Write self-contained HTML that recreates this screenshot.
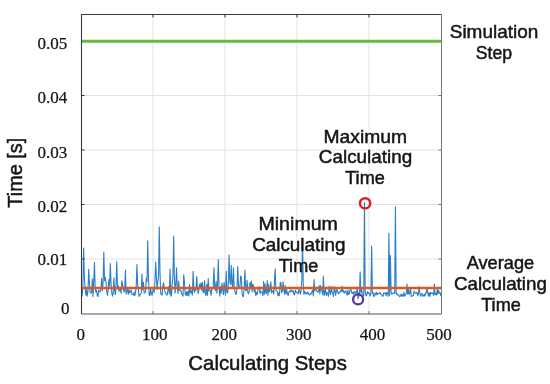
<!DOCTYPE html>
<html><head><meta charset="utf-8"><title>Calculating Time</title>
<style>
html,body{margin:0;padding:0;background:#fff;}
body{width:550px;height:384px;overflow:hidden;position:relative;}
svg{position:absolute;left:0;top:0;display:block;}
.tk{font-family:"Liberation Serif",serif;font-size:17px;fill:#151515;stroke:#151515;stroke-width:0.25;}
.lb{font-family:"Liberation Sans",sans-serif;font-size:19px;fill:#151515;stroke:#151515;stroke-width:0.5;}
.ax{font-family:"Liberation Sans",sans-serif;font-size:21px;fill:#151515;stroke:#151515;stroke-width:0.5;}
</style></head><body>
<svg width="550" height="384" viewBox="0 0 550 384">
<rect width="550" height="384" fill="#fff"/>
<g stroke="#e3e3e3" stroke-width="1"><line x1="153" y1="14.5" x2="153" y2="314"/><line x1="225" y1="14.5" x2="225" y2="314"/><line x1="297" y1="14.5" x2="297" y2="314"/><line x1="369" y1="14.5" x2="369" y2="314"/><line x1="81.5" y1="95.5" x2="441.5" y2="95.5"/><line x1="81.5" y1="150" x2="441.5" y2="150"/><line x1="81.5" y1="204.5" x2="441.5" y2="204.5"/><line x1="81.5" y1="259" x2="441.5" y2="259"/></g>
<polyline fill="none" stroke="#2a7fc6" stroke-width="1.1" stroke-linejoin="round" points="81.50,292.7 82.22,296.0 82.94,284.6 83.66,248.0 84.38,278.2 85.10,286.2 85.82,295.2 86.54,289.8 87.26,296.3 87.98,290.6 88.70,269.4 89.42,283.1 90.14,292.6 90.86,293.1 91.58,293.0 92.30,278.7 93.02,296.5 93.74,282.4 94.46,262.5 95.18,288.2 95.90,292.2 96.62,290.1 97.34,295.9 98.06,296.4 98.78,290.0 99.50,291.0 100.22,291.8 100.94,289.1 101.66,278.4 102.38,290.7 103.10,281.6 103.82,252.0 104.54,280.7 105.26,277.3 105.98,282.4 106.70,291.0 107.42,295.5 108.14,290.2 108.86,279.5 109.58,286.3 110.30,263.5 111.02,283.1 111.74,292.1 112.46,296.2 113.18,293.5 113.90,277.8 114.62,290.1 115.34,294.7 116.06,285.1 116.78,261.5 117.50,287.1 118.22,285.5 118.94,291.3 119.66,288.7 120.38,289.0 121.10,293.4 121.82,280.7 122.54,285.0 123.26,287.7 123.98,292.1 124.70,290.4 125.42,270.0 126.14,294.1 126.86,290.2 127.58,289.6 128.30,294.4 129.02,289.6 129.74,292.9 130.46,291.7 131.18,290.0 131.90,294.7 132.62,294.7 133.34,295.1 134.06,292.0 134.78,295.8 135.50,292.4 136.22,285.6 136.94,264.6 137.66,285.1 138.38,290.1 139.10,296.5 139.82,294.6 140.54,294.6 141.26,292.6 141.98,274.0 142.70,289.7 143.42,282.2 144.14,293.0 144.86,292.8 145.58,291.6 146.30,278.0 147.02,281.4 147.74,240.8 148.46,278.3 149.18,295.1 149.90,295.7 150.62,289.1 151.34,293.0 152.06,295.4 152.78,291.3 153.50,287.3 154.22,292.4 154.94,280.7 155.66,262.0 156.38,277.4 157.10,289.8 157.82,281.8 158.54,276.4 159.26,226.7 159.98,271.8 160.70,293.9 161.42,293.9 162.14,295.2 162.86,286.1 163.58,282.6 164.30,288.5 165.02,291.9 165.74,293.1 166.46,294.8 167.18,295.0 167.90,290.1 168.62,286.6 169.34,293.9 170.06,269.0 170.78,295.7 171.50,296.1 172.22,283.1 172.94,276.6 173.66,236.0 174.38,278.5 175.10,293.3 175.82,284.4 176.54,267.8 177.26,288.3 177.98,293.4 178.70,281.0 179.42,289.9 180.14,290.7 180.86,290.4 181.58,293.1 182.30,295.4 183.02,296.1 183.74,274.8 184.46,282.2 185.18,294.0 185.90,295.4 186.62,291.7 187.34,295.4 188.06,291.0 188.78,296.3 189.50,284.6 190.22,293.0 190.94,289.7 191.66,293.1 192.38,295.1 193.10,271.3 193.82,290.0 194.54,292.4 195.26,287.8 195.98,290.4 196.70,276.5 197.42,287.7 198.14,293.8 198.86,290.4 199.58,284.2 200.30,287.4 201.02,282.8 201.74,290.4 202.46,282.4 203.18,292.6 203.90,292.4 204.62,280.7 205.34,294.0 206.06,295.5 206.78,284.3 207.50,295.2 208.22,278.6 208.94,291.0 209.66,290.1 210.38,290.5 211.10,295.3 211.82,287.6 212.54,289.1 213.26,285.3 213.98,267.8 214.70,288.4 215.42,290.5 216.14,281.2 216.86,293.1 217.58,283.9 218.30,259.6 219.02,286.4 219.74,296.2 220.46,286.7 221.18,293.1 221.90,283.0 222.62,287.4 223.34,294.7 224.06,282.2 224.78,289.6 225.50,295.1 226.22,271.0 226.94,292.3 227.66,293.0 228.38,282.1 229.10,254.9 229.82,281.4 230.54,284.5 231.26,265.4 231.98,284.5 232.70,287.8 233.42,267.8 234.14,286.8 234.86,291.1 235.58,294.2 236.30,294.1 237.02,287.9 237.74,266.6 238.46,286.0 239.18,286.6 239.90,287.3 240.62,276.0 241.34,277.2 242.06,293.4 242.78,296.3 243.50,296.5 244.22,285.6 244.94,270.0 245.66,290.6 246.38,290.7 247.10,280.4 247.82,292.4 248.54,293.7 249.26,291.5 249.98,282.5 250.70,286.4 251.42,281.0 252.14,291.7 252.86,284.3 253.58,286.3 254.30,292.0 255.02,289.1 255.74,295.6 256.46,292.3 257.18,294.7 257.90,289.8 258.62,288.8 259.34,286.6 260.06,293.7 260.78,290.8 261.50,291.9 262.22,292.7 262.94,295.7 263.66,281.4 264.38,294.5 265.10,283.7 265.82,293.0 266.54,293.4 267.26,280.5 267.98,295.4 268.70,284.4 269.42,292.0 270.14,289.7 270.86,281.8 271.58,292.9 272.30,291.6 273.02,290.5 273.74,294.2 274.46,280.9 275.18,269.0 275.90,290.5 276.62,290.8 277.34,291.6 278.06,295.9 278.78,292.8 279.50,295.4 280.22,282.5 280.94,282.6 281.66,292.4 282.38,291.1 283.10,281.9 283.82,289.6 284.54,294.1 285.26,285.5 285.98,294.1 286.70,289.8 287.42,293.0 288.14,295.6 288.86,292.1 289.58,291.1 290.30,291.8 291.02,289.7 291.74,291.6 292.46,291.8 293.18,290.4 293.90,294.6 294.62,294.9 295.34,290.2 296.06,292.0 296.78,292.6 297.50,293.0 298.22,293.6 298.94,289.4 299.66,290.9 300.38,294.2 301.10,289.6 301.82,279.9 302.54,240.5 303.26,284.8 303.98,294.4 304.70,291.4 305.42,293.7 306.14,292.8 306.86,294.0 307.58,291.9 308.30,293.7 309.02,294.6 309.74,295.2 310.46,293.5 311.18,294.0 311.90,292.0 312.62,290.0 313.34,295.9 314.06,279.5 314.78,291.0 315.50,289.4 316.22,289.8 316.94,291.0 317.66,292.2 318.38,291.6 319.10,285.6 319.82,294.0 320.54,285.6 321.26,290.2 321.98,291.2 322.70,294.7 323.42,276.0 324.14,295.4 324.86,292.8 325.58,289.0 326.30,295.6 327.02,292.5 327.74,293.3 328.46,296.3 329.18,286.2 329.90,292.4 330.62,294.6 331.34,286.4 332.06,291.7 332.78,293.3 333.50,296.4 334.22,286.6 334.94,290.0 335.66,295.4 336.38,290.5 337.10,289.2 337.82,293.0 338.54,293.8 339.26,291.9 339.98,292.7 340.70,290.6 341.42,291.3 342.14,286.2 342.86,292.0 343.58,290.5 344.30,293.0 345.02,292.3 345.74,290.7 346.46,293.0 347.18,295.3 347.90,290.1 348.62,294.5 349.34,293.6 350.06,290.1 350.78,289.0 351.50,291.9 352.22,293.5 352.94,292.2 353.66,294.3 354.38,291.3 355.10,292.1 355.82,293.6 356.54,292.1 357.26,287.1 357.98,299.0 358.70,292.8 359.42,295.9 360.14,271.9 360.86,292.7 361.58,288.2 362.30,294.0 363.02,295.0 363.74,295.9 364.46,202.5 365.18,292.1 365.90,295.3 366.62,295.7 367.34,291.5 368.06,293.6 368.78,292.5 369.50,294.4 370.22,295.9 370.94,292.7 371.66,246.0 372.38,293.7 373.10,292.7 373.82,296.6 374.54,295.4 375.26,292.9 375.98,294.9 376.70,292.4 377.42,294.7 378.14,293.5 378.86,293.7 379.58,292.6 380.30,292.6 381.02,294.6 381.74,294.6 382.46,296.3 383.18,295.8 383.90,292.6 384.62,293.4 385.34,293.1 386.06,295.9 386.78,292.4 387.50,292.8 388.22,296.4 388.94,233.3 389.66,295.5 390.38,255.6 391.10,292.1 391.82,294.2 392.54,293.8 393.26,292.8 393.98,293.2 394.70,293.6 395.42,207.0 396.14,292.7 396.86,294.8 397.58,293.9 398.30,295.2 399.02,295.5 399.74,296.7 400.46,296.0 401.18,294.0 401.90,296.3 402.62,294.5 403.34,296.3 404.06,292.3 404.78,296.2 405.50,294.8 406.22,293.4 406.94,284.0 407.66,294.1 408.38,289.1 409.10,294.5 409.82,293.4 410.54,287.5 411.26,296.5 411.98,296.1 412.70,295.8 413.42,295.5 414.14,291.1 414.86,292.6 415.58,293.5 416.30,293.4 417.02,292.3 417.74,295.8 418.46,293.7 419.18,286.6 419.90,293.4 420.62,296.4 421.34,294.2 422.06,293.4 422.78,296.2 423.50,295.9 424.22,294.2 424.94,296.1 425.66,292.9 426.38,292.9 427.10,287.3 427.82,293.5 428.54,296.1 429.26,292.6 429.98,296.4 430.70,292.4 431.42,293.4 432.14,292.9 432.86,293.1 433.58,295.7 434.30,284.0 435.02,294.8 435.74,293.4 436.46,295.1 437.18,289.1 437.90,294.1 438.62,290.1 439.34,293.3 440.06,292.6 440.78,295.6 441.50,293.3"/>
<g stroke="#333" stroke-width="1"><line x1="153" y1="14.5" x2="153" y2="17.5"/><line x1="225" y1="14.5" x2="225" y2="17.5"/><line x1="297" y1="14.5" x2="297" y2="17.5"/><line x1="369" y1="14.5" x2="369" y2="17.5"/><line x1="81.5" y1="41" x2="84.5" y2="41"/><line x1="81.5" y1="95.5" x2="84.5" y2="95.5"/><line x1="81.5" y1="150" x2="84.5" y2="150"/><line x1="81.5" y1="204.5" x2="84.5" y2="204.5"/><line x1="81.5" y1="259" x2="84.5" y2="259"/></g>
<g stroke="#777" stroke-width="1"><line x1="153" y1="314" x2="153" y2="311"/><line x1="225" y1="314" x2="225" y2="311"/><line x1="297" y1="314" x2="297" y2="311"/><line x1="369" y1="314" x2="369" y2="311"/><line x1="441.5" y1="41" x2="438.5" y2="41"/><line x1="441.5" y1="95.5" x2="438.5" y2="95.5"/><line x1="441.5" y1="150" x2="438.5" y2="150"/><line x1="441.5" y1="204.5" x2="438.5" y2="204.5"/><line x1="441.5" y1="259" x2="438.5" y2="259"/></g>
<line x1="81.5" y1="288.1" x2="441.5" y2="288.1" stroke="#dc5a22" stroke-width="2.5"/>
<line x1="81.5" y1="41.2" x2="441.5" y2="41.2" stroke="#66bb3a" stroke-width="2.9"/>
<path d="M441.5 14.5V314" stroke="#777" stroke-width="1" fill="none"/>
<path d="M81.5 314H441.5" stroke="#555" stroke-width="1" fill="none"/>
<path d="M81.5 314V14.5H441.5" stroke="#3a3a3a" stroke-width="1.1" fill="none"/>
<circle cx="365.1" cy="203.3" r="5.1" fill="none" stroke="#dd1c25" stroke-width="2.4"/>
<circle cx="358.1" cy="299.4" r="5.0" fill="none" stroke="#64339a" stroke-width="2.3"/>
<g class="tk" text-anchor="end"><text x="67.3" y="49.1">0.05</text><text x="67.3" y="103">0.04</text><text x="67.3" y="157.6">0.03</text><text x="67.3" y="212">0.02</text><text x="67.3" y="265.4">0.01</text><text x="69.5" y="314">0</text></g>
<g class="tk" text-anchor="middle"><text x="80.7" y="340.2">0</text><text x="154.8" y="340.2">100</text><text x="224.3" y="340.2">200</text><text x="298.8" y="340.2">300</text><text x="372.4" y="340.2">400</text><text x="439" y="340.2">500</text></g>
<g class="lb" text-anchor="middle"><text x="494" y="37.6" textLength="88.5" lengthAdjust="spacingAndGlyphs">Simulation</text><text x="494" y="58.6" textLength="36.3" lengthAdjust="spacingAndGlyphs">Step</text><text x="365.3" y="142.7" textLength="83.5" lengthAdjust="spacingAndGlyphs">Maximum</text><text x="365.5" y="163.3" textLength="93.3" lengthAdjust="spacingAndGlyphs">Calculating</text><text x="365" y="183.8" textLength="39.5" lengthAdjust="spacingAndGlyphs">Time</text><text x="298.2" y="230.4" textLength="79.5" lengthAdjust="spacingAndGlyphs">Minimum</text><text x="298.8" y="251.3" textLength="93.3" lengthAdjust="spacingAndGlyphs">Calculating</text><text x="298.5" y="272" textLength="39.5" lengthAdjust="spacingAndGlyphs">Time</text><text x="500.4" y="269" textLength="67.5" lengthAdjust="spacingAndGlyphs">Average</text><text x="500.4" y="289.8" textLength="93.0" lengthAdjust="spacingAndGlyphs">Calculating</text><text x="501" y="310.6" textLength="39.5" lengthAdjust="spacingAndGlyphs">Time</text></g>
<text class="ax" text-anchor="middle" x="267.6" y="370" textLength="158.5" lengthAdjust="spacingAndGlyphs">Calculating Steps</text>
<text class="ax" text-anchor="middle" transform="translate(22.2,172.7) rotate(-90)" textLength="70" lengthAdjust="spacingAndGlyphs">Time [s]</text>
</svg>
</body></html>
